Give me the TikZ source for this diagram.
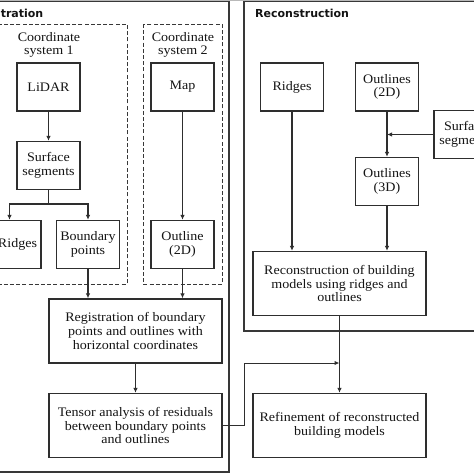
\documentclass[tikz,border=0pt]{standalone}
\usepackage{fontspec}
\setmainfont[FakeStretch=1.08]{Liberation Serif}
\newfontfamily\titlefont{DejaVu Sans}
\usetikzlibrary{arrows.meta}
\definecolor{boxc}{gray}{0.18}
\definecolor{framec}{gray}{0.22}
\definecolor{txtc}{gray}{0.08}
\begin{document}
\begin{tikzpicture}[x=1pt,y=-1pt,
  box/.style={draw=boxc, line width=1.3pt, inner sep=0pt, align=center,
    font=\fontsize{13}{13.7}\selectfont, text=txtc},
  small/.style={box, minimum width=63pt, minimum height=48pt},
  wide/.style={box, minimum width=173pt, minimum height=64pt},
  frame/.style={draw=framec, line width=1.5pt},
  dashframe/.style={draw=framec, line width=1pt, dash pattern=on 4pt off 2.2pt},
  conn/.style={draw=boxc, line width=1.4pt},
  arr/.style={conn, -{Latex[length=5pt,width=4.5pt]}},
  arrthin/.style={draw=boxc, line width=1pt, -{Latex[length=5pt,width=4.5pt]}},
  ttl/.style={font=\titlefont\bfseries\fontsize{11}{13}\selectfont, text=txtc, inner sep=0pt},
  plain/.style={align=center, font=\fontsize{13}{13.7}\selectfont, text=txtc, inner sep=0pt}
]
\useasboundingbox (0,0) rectangle (474,474);
\clip (0,0) rectangle (474,474);
\fill[white] (0,0) rectangle (474,474);

% frames
\draw[frame] (-30,1.5) rectangle (229,472);
\draw[frame] (244,1.5) rectangle (520,331);
\draw[gray!55, line width=1.4pt] (0,0.7) -- (474,0.7);
\node[ttl, anchor=base east] (ttlreg) at (43.5,17.3) {Registration};
\node[ttl, anchor=base west] (ttlrec) at (255,17.3) {Reconstruction};

% dashed boxes
\draw[dashframe] (-40,24) rectangle (127,284);
\draw[dashframe] (143,24) rectangle (222,284);
\node[plain] (cs1) at (49,45) {Coordinate\\system 1};
\node[plain] (cs2) at (183,45) {Coordinate\\system 2};

% registration nodes
\node[small] (lidar) at (48.5,87) {LiDAR};
\node[small] (surfL) at (48.5,165.5) {Surface\\segments};
\node[small, text width=55pt, align=right] (ridgesL) at (9.5,244.5) {Ridges};
\node[small] (bound) at (88,244.5) {Boundary\\points};
\node[small] (map) at (182.5,87) {Map};
\node[small] (outl) at (182.5,244.5) {Outline\\(2D)};
\node[wide] (reg) at (135.5,331) {Registration of boundary\\points and outlines with\\horizontal coordinates};
\node[wide] (tensor) at (135.5,425.5) {Tensor analysis of residuals\\between boundary points\\and outlines};

% reconstruction nodes
\node[small] (ridgesR) at (292,87) {Ridges};
\node[small] (out2d) at (387,87) {Outlines\\(2D)};
\node[small] (surfR) at (465.5,134.5) {Surface\\segments};
\node[small] (out3d) at (387,181.5) {Outlines\\(3D)};
\node[wide] (recon) at (339.5,283.5) {Reconstruction of building\\models using ridges and\\outlines};
\node[wide] (refine) at (339.5,425.5) {Refinement of reconstructed\\building models};

% connectors registration
\draw[arr] (lidar) -- (surfL);
\coordinate (split) at (48.5,204);
\draw[conn] (surfL.south) -- (split);
\draw[arr] (split) -| (ridgesL.north);
\draw[arr] (split) -| (bound.north);
\draw[arr] (map) -- (outl);
\draw[arr] (bound.south) -- (bound.south |- reg.north);
\draw[arr] (outl.south) -- (outl.south |- reg.north);
\draw[arr] (reg) -- (tensor);

% connectors reconstruction
\coordinate (joinR) at (387,134.5);
\draw[arrthin] (surfR.west) -- (joinR);
\draw[arr] (out2d) -- (out3d);
\draw[arr] (ridgesR.south) -- (ridgesR.south |- recon.north);
\draw[arr] (out3d.south) -- (out3d.south |- recon.north);
\draw[arr] (recon) -- (refine);

% tensor to refinement
\coordinate (b1) at (244,425.5);
\coordinate (b2) at (244,363);
\coordinate (join) at (339.5,363);
\draw[arrthin] (tensor.east) -- (b1) -- (b2) -- (join);
\end{tikzpicture}
\end{document}
